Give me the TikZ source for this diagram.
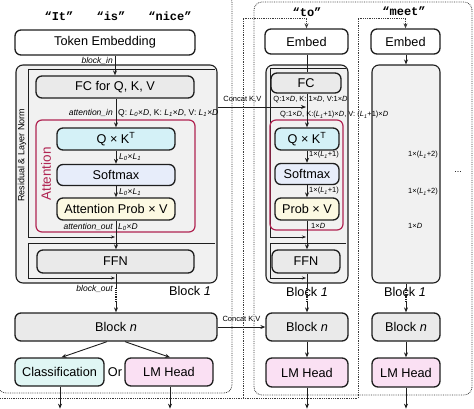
\documentclass[tikz,border=0pt]{standalone}
\usepackage{fontspec}
\setmainfont{Liberation Sans}
\setmonofont{Liberation Mono}
\usetikzlibrary{arrows.meta}
\definecolor{bgray}{RGB}{241,241,241}
\definecolor{boxgray}{RGB}{234,234,234}
\definecolor{qkcol}{RGB}{212,241,247}
\definecolor{smcol}{RGB}{231,237,250}
\definecolor{pvcol}{RGB}{252,249,226}
\definecolor{lmcol}{RGB}{250,224,243}
\definecolor{clscol}{RGB}{224,246,244}
\definecolor{attcol}{RGB}{176,36,82}
\definecolor{linecol}{RGB}{30,30,30}
\definecolor{dotcol}{RGB}{60,60,60}
\begin{document}
\begin{tikzpicture}[x=1pt,y=-1pt,
  box/.style={draw=linecol, line width=1.3pt, rounded corners=6pt, inner sep=0pt, font=\fontsize{12.7}{14}\selectfont},
  bigblock/.style={draw=linecol, line width=1.1pt, rounded corners=7pt, fill=bgray, inner sep=0pt},
  attframe/.style={draw=attcol, line width=1.2pt, rounded corners=6pt, inner sep=0pt},
  arr/.style={-{Stealth[length=5pt,width=4pt]}, line width=0.9pt, draw=linecol},
  plain/.style={line width=0.9pt, draw=linecol},
  res/.style={-{Stealth[length=4pt,width=3pt]}, line width=0.6pt, draw=linecol},
  resline/.style={line width=0.6pt, draw=linecol},
  dotseg/.style={densely dotted, line width=1.1pt, draw=linecol},
  loop/.style={densely dotted, line width=0.8pt, draw=dotcol},
  tokst/.style={font=\fontsize{12}{14}\selectfont\ttfamily\bfseries, inner sep=0pt},
  labr/.style={anchor=east, inner sep=0pt, font=\fontsize{8.5}{10}\selectfont\itshape},
  labl/.style={anchor=west, inner sep=0pt, font=\fontsize{8.5}{10}\selectfont},
  labs/.style={anchor=west, inner sep=0pt, font=\fontsize{7.5}{9}\selectfont},
  catlab/.style={inner sep=0pt, font=\fontsize{7.5}{9}\selectfont},
  blab/.style={inner sep=0pt, font=\fontsize{12.7}{14}\selectfont}
]
\useasboundingbox (0,0) rectangle (474,408);

% ---------- dotted frames ----------
\draw[loop, rounded corners=8pt] (-2,-6) rectangle (232,393);
\draw[loop, rounded corners=8pt] (254,2) rectangle (472,395);

% ---------- tokens ----------
\node[tokst] (tIt) at (59,16) {“It”};
\node[tokst] (tis) at (111,16) {“is”};
\node[tokst] (tnice) at (170,16) {“nice”};
\node[tokst] (tto) at (307,12) {“to”};
\node[tokst] (tmeet) at (404,11) {“meet”};

% ---------- right column ("meet") block drawn first (labels from middle overlap it) ----------
\node[box, fill=white, minimum width=69pt, minimum height=25pt] (embMe) at (405.5,41.5) {Embed};
\node[bigblock, minimum width=68pt, minimum height=218pt] (block1R) at (406,174) {};

% ---------- left column ----------
\node[box, fill=white, minimum width=180pt, minimum height=25pt] (tokemb) at (105,42.5) {Token Embedding};
\node[bigblock, minimum width=201pt, minimum height=218pt] (block1L) at (116.5,174) {};
\draw[resline] (215,69) -- (28,69) -- (28,237);
\draw[res] (28,237) -- (115,237);
\draw[resline] (215,243) -- (28,243) -- (28,278);
\draw[res] (28,278) -- (115,278);
\node[rotate=90, inner sep=0pt, font=\fontsize{9}{10}\selectfont] (resL) at (22,155) {Residual \& Layer Norm};
\node[box, fill=boxgray, minimum width=158pt, minimum height=22pt] (fcL) at (115,87) {FC for Q, K, V};
\node[attframe, minimum width=159pt, minimum height=112pt] (attL) at (115.5,176) {};
\node[rotate=90, inner sep=0pt, text=attcol, font=\fontsize{13.5}{15}\selectfont] (attlabL) at (46,174) {Attention};
\node[box, fill=qkcol, minimum width=118pt, minimum height=22pt] (qkL) at (116,139) {Q × K\textsuperscript{T}};
\node[box, fill=smcol, minimum width=118pt, minimum height=21pt] (smL) at (116,175) {Softmax};
\node[box, fill=pvcol, minimum width=118pt, minimum height=22pt] (pvL) at (116,209) {Attention Prob × V};
\node[box, fill=boxgray, minimum width=157pt, minimum height=23pt] (ffnL) at (115.5,261.5) {FFN};
\node[blab] (bl1L) at (190,291) {Block \textit{1}};
\node[box, fill=boxgray, minimum width=202pt, minimum height=28pt] (blocknL) at (116,327) {Block \textit{n}};
\node[box, fill=clscol, minimum width=89pt, minimum height=28pt] (clsL) at (59.5,372) {Classification};
\node[blab] (orL) at (115,372) {Or};
\node[box, fill=lmcol, minimum width=88pt, minimum height=28pt] (lmL) at (169,372) {LM Head};

\draw[arr] (tokemb.south -| fcL.north) -- (fcL.north);
\node[labr] (lbin) at (113,61) {block\_in};
\draw[arr] (fcL.south -| qkL.north) -- (qkL.north);
\node[labr] (lain) at (113,113) {attention\_in};
\node[labl] (lqkv) at (118,113) {Q: \textit{L\textsubscript{0}}×\textit{D}, K: \textit{L\textsubscript{1}}×\textit{D}, V: \textit{L\textsubscript{1}}×\textit{D}};
\draw[arr] (qkL) -- (smL);
\node[labl] (ll1) at (119,157) {\textit{L\textsubscript{0}}×\textit{L\textsubscript{1}}};
\draw[arr] (smL) -- (pvL);
\node[labl] (ll2) at (119,192) {\textit{L\textsubscript{0}}×\textit{L\textsubscript{1}}};
\draw[arr] (pvL.south) -- (pvL.south |- ffnL.north);
\node[labr] (laout) at (113,227) {attention\_out};
\node[labl] (ll3) at (118,227) {\textit{L\textsubscript{0}}×\textit{D}};
\coordinate (yA) at (0,288);
\coordinate (yB) at (0,302);
\draw[plain] (ffnL.south -| pvL.south) -- (pvL.south |- yA);
\draw[dotseg] (pvL.south |- yA) -- (pvL.south |- yB);
\draw[arr] (pvL.south |- yB) -- (pvL.south |- blocknL.north);
\node[labr] (lbout) at (113,289) {block\_out};
\draw[arr] ([xshift=-9pt]blocknL.south) -- ([xshift=2pt]clsL.north);
\draw[arr] ([xshift=9pt]blocknL.south) -- ([xshift=1pt]lmL.north);
\draw[arr] ([xshift=0.5pt]clsL.south) -- ++(0,22);
\draw[arr] ([xshift=1pt]lmL.south) -- ++(0,22);

% ---------- middle column ("to") ----------
\node[box, fill=white, minimum width=83pt, minimum height=25pt] (embTo) at (306.5,41.5) {Embed};
\node[bigblock, minimum width=82pt, minimum height=218pt] (block1M) at (307,174) {};
\draw[resline] (346,68) -- (270,68) -- (270,237);
\draw[res] (270,237) -- (306,237);
\draw[resline] (346,243) -- (270,243) -- (270,278);
\draw[res] (270,278) -- (306,278);
\node[box, fill=boxgray, minimum width=70pt, minimum height=20pt] (fcM) at (306,83) {FC};
\node[attframe, minimum width=73pt, minimum height=110pt] (attM) at (306.5,175) {};
\node[box, fill=qkcol, minimum width=64pt, minimum height=22pt] (qkM) at (307,139) {Q × K\textsuperscript{T}};
\node[box, fill=smcol, minimum width=64pt, minimum height=21pt] (smM) at (307,174) {Softmax};
\node[box, fill=pvcol, minimum width=64pt, minimum height=22pt] (pvM) at (307,209) {Prob × V};
\node[box, fill=boxgray, minimum width=68pt, minimum height=23pt] (ffnM) at (306,261.5) {FFN};
\node[box, fill=boxgray, minimum width=82pt, minimum height=28pt] (blocknM) at (307,327) {Block \textit{n}};
\node[box, fill=lmcol, minimum width=82pt, minimum height=29pt] (lmM) at (307,372.5) {LM Head};

\draw[plain] (embTo.south -| qkM.north) -- (fcM.north -| qkM.north);
\draw[arr] (fcM.south -| qkM.north) -- (qkM.north);
\node[catlab] (lm1) at (310.5,100) {Q:1×\textit{D}, K: 1×\textit{D}, V:1×\textit{D}};
\node[labs] (lm2) at (280,115) {Q:1×\textit{D}, K:(\textit{L\textsubscript{1}}+1)×\textit{D}, V: (\textit{L\textsubscript{1}}+1)×\textit{D}};
\coordinate (catEnd) at (306,107);
\draw[arr] (block1L.east |- catEnd) -- (catEnd) node[catlab, pos=0.28, above=4pt] (cat1) {Concat K,V};
\draw[arr] (qkM) -- (smM);
\node[labs] (lm3) at (309,155) {1×(\textit{L\textsubscript{1}}+1)};
\draw[arr] (smM) -- (pvM);
\node[labs] (lm4) at (309,191) {1×(\textit{L\textsubscript{1}}+1)};
\draw[arr] (pvM.south) -- (pvM.south |- ffnM.north);
\node[labs] (lm5) at (311,226) {1×\textit{D}};
\draw[plain] (ffnM.south -| pvM.south) -- (pvM.south |- yA);
\draw[dotseg] (pvM.south |- yA) -- (pvM.south |- yB);
\draw[arr] (pvM.south |- yB) -- (blocknM.north);
\node[blab] (bl1M) at (307,292) {Block \textit{1}};
\draw[arr] (blocknL.east) -- (blocknM.west) node[catlab, midway, above=4pt] (cat2) {Concat K,V};
\draw[arr] (blocknM) -- (lmM);
\draw[arr] (lmM.south) -- ++(0,21);

% ---------- right column rest ----------
\node[labs] (lr1) at (408,155) {1×(\textit{L\textsubscript{1}}+2)};
\node[labs] (lr2) at (408,192) {1×(\textit{L\textsubscript{1}}+2)};
\node[labs] (lr3) at (408,226) {1×\textit{D}};
\node[blab] (bl1R) at (405,292) {Block \textit{1}};
\node[box, fill=boxgray, minimum width=68pt, minimum height=28pt] (blocknR) at (406,327) {Block \textit{n}};
\node[box, fill=lmcol, minimum width=68pt, minimum height=29pt] (lmR) at (406,372.5) {LM Head};
\node[inner sep=0pt, font=\fontsize{9}{10}\selectfont] (dotsR) at (458,172) {...};
\draw[arr] (embMe.south -| block1R.north) -- (block1R.north);
\draw[plain] (block1R.south) -- (block1R.south |- yA);
\draw[dotseg] (block1R.south |- yA) -- (block1R.south |- yB);
\draw[arr] (block1R.south |- yB) -- (blocknR.north);
\draw[arr] (blocknR) -- (lmR);
\draw[arr] (lmR.south) -- ++(0,21);

% ---------- feedback loops ----------
\coordinate (lpA) at (0,398);
\coordinate (lpB) at (243,18);
\coordinate (lpC) at (358,398);
\coordinate (lpD) at (358,18);
\draw[loop, -{Stealth[length=5pt,width=4pt]}] (lpA) -| (lpB) -| (embTo.north);
\draw[loop] (lpB |- lpA) -- (lpC);
\draw[loop, -{Stealth[length=5pt,width=4pt]}] (lpC) -- (lpD) -| (embMe.north);
\end{tikzpicture}
\end{document}
